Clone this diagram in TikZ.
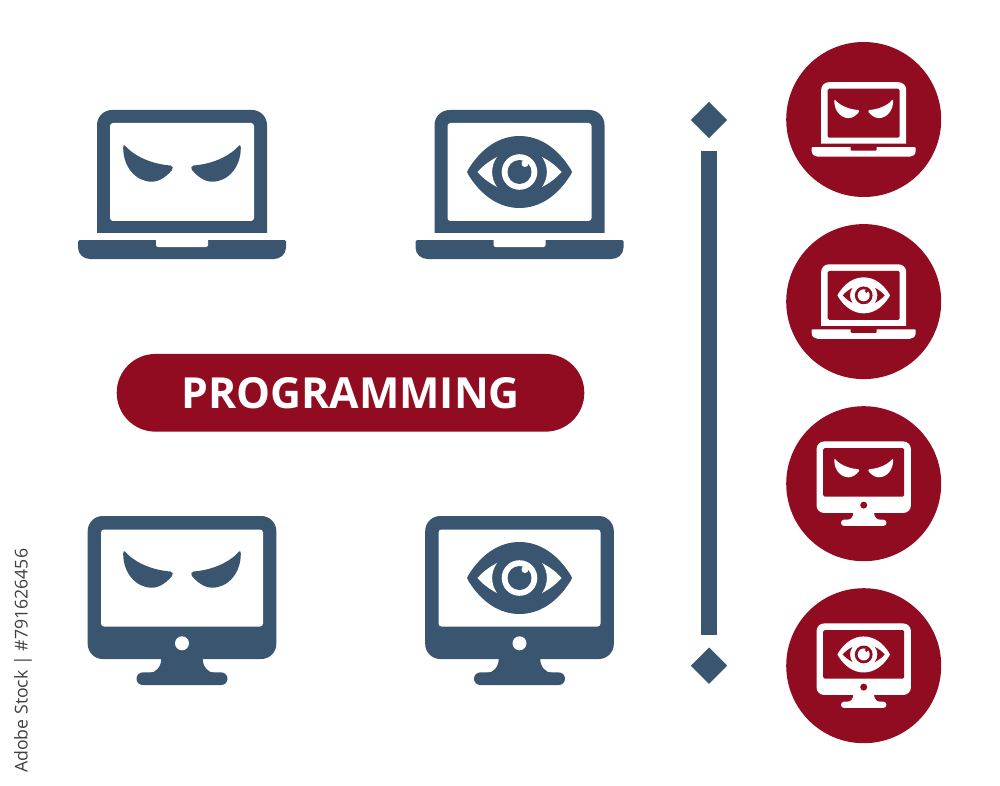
\documentclass[tikz,border=0pt]{standalone}
\usepackage{fontspec}
\setmainfont{Open Sans}
\usetikzlibrary{shapes.geometric}
\definecolor{iconblue}{HTML}{3A5570}
\definecolor{iconred}{HTML}{910C20}
\tikzset{
    badge/.style={circle,fill=iconred,inner sep=0pt,minimum size=155pt},
    marker/.style={diamond,fill=iconblue,aspect=1,inner sep=0pt,minimum width=36.6pt,minimum height=36.6pt},
    pics/angryeyes/.style={code={
        \foreach \side in {1,-1} {
            \fill[iconfore,xscale=\side] (-57,-19.5) .. controls (-48,-9) and (-31,-1) .. (-11.5,0.5)
                .. controls (-9,0.8) and (-8.5,3.5) .. (-10,5)
                .. controls (-15,11) and (-22,16.7) .. (-30.3,16.7)
                .. controls (-46,16.7) and (-59,2) .. (-58.8,-17.5)
                .. controls (-58.8,-19.5) and (-58,-20.5) .. (-57,-19.5) -- cycle;
        }
    }},
    pics/watcheye/.style={code={
        \begin{scope}[shift={(0,7)}]
        \fill[iconfore] (-51,-3) .. controls (-38,-24) and (-20,-36) .. (0,-36)
            .. controls (20,-36) and (38,-24) .. (51,-3)
            .. controls (53,-1) and (53,1) .. (51,3)
            .. controls (38,24) and (20,36) .. (0,36)
            .. controls (-20,36) and (-38,24) .. (-51,3)
            .. controls (-53,1) and (-53,-1) .. (-51,-3) -- cycle;
        \foreach \side in {1,-1} {
            \fill[iconback,xscale=\side] (-42,0) .. controls (-37,-6) and (-30,-11) .. (-22.5,-15)
                .. controls (-29,-6) and (-29,6) .. (-22.5,15)
                .. controls (-30,11) and (-37,6) .. (-42,0) -- cycle;
        }
        \fill[iconback] (0,0) circle[radius=17.8];
        \fill[iconfore] (0,0) circle[radius=12];
        \fill[iconback] (5.5,-8.5) circle[radius=3.5];
        \end{scope}
    }},
    %% #1 shape colour, #2 screen colour, #3 size, #4 what the screen shows
    pics/laptop/.style n args={4}{code={
        \colorlet{iconfore}{#1}
        \colorlet{iconback}{#2}
        \begin{scope}[scale=#3]
        \fill[iconfore] (-85,48.5) -- (-85,-59.5) .. controls (-85,-68) and (-78,-74.5) .. (-70,-74.5)
            -- (70,-74.5) .. controls (78,-74.5) and (85,-68) .. (85,-59.5) -- (85,48.5) -- cycle;
        \fill[iconback,rounded corners=#3*3pt] (-72,-61.5) rectangle (72,36.5);
        \fill[iconfore] (-104,57) .. controls (-104,56) and (-103.5,55.5) .. (-102.5,55.5)
            -- (102.5,55.5) .. controls (103.5,55.5) and (104,56) .. (104,57)
            -- (104,63) .. controls (104,70) and (98,74.5) .. (92,74.5)
            -- (-92,74.5) .. controls (-98,74.5) and (-104,70) .. (-104,63) -- cycle;
        \fill[iconback,rounded corners=#3*2pt] (-26,50) rectangle (26,62.5);
        \pic[scale=#3] at (0,-19.5) {#4};
        \end{scope}
    }},
    pics/monitor/.style n args={4}{code={
        \colorlet{iconfore}{#1}
        \colorlet{iconback}{#2}
        \begin{scope}[scale=#3]
        \fill[iconfore,rounded corners=#3*15pt] (-94.3,-84.5) rectangle (94.3,58.5);
        \fill[iconback,rounded corners=#3*3pt] (-81,-71) rectangle (81,26);
        \fill[iconback] (0,42.8) circle[radius=7];
        \fill[iconfore] (-20.7,55) -- (-20.7,58) .. controls (-20.7,66) and (-26,72.5) .. (-33,72.5)
            -- (33,72.5) .. controls (26,72.5) and (20.7,66) .. (20.7,58) -- (20.7,55) -- cycle;
        \fill[iconfore,rounded corners=#3*6.2pt] (-45.5,71.9) rectangle (45.5,84.5);
        \pic[scale=#3] at (0,-29.5) {#4};
        \end{scope}
    }}
}
\begin{document}
\begin{tikzpicture}[x=1pt,y=-1pt]
    \useasboundingbox (0,0) rectangle (1000,786);
    %% Big icons
    \foreach \px/\face in {182/angryeyes,519.5/watcheye} {
        \pic at (\px,184.5) {laptop={iconblue}{white}{1}{\face}};
        \pic at (\px,600.5) {monitor={iconblue}{white}{1}{\face}};
    }
    %% Title
    \node[fill=iconred,rounded corners=38.8pt,minimum width=467.6pt,minimum height=77.7pt,
        inner sep=0pt,text=white,font=\fontsize{42.8}{43}\selectfont\bfseries] (title) at (350.5,392.8) {PROGRAMMING};
    %% Divider
    \node[marker] (topmark) at (709,120) {};
    \node[marker] (botmark) at (709,665.7) {};
    \draw[iconblue,line width=16.6pt,shorten <=12.4pt,shorten >=12.4pt] (topmark) -- (botmark);
    %% Badges
    \foreach \n/\py in {1/119.5,2/301.6,3/483.7,4/665.7} {
        \node[badge] (badge\n) at (863.7,\py) {};
    }
    \pic at (badge1) {laptop={white}{iconred}{0.5}{angryeyes}};
    \pic at (badge2) {laptop={white}{iconred}{0.5}{watcheye}};
    \pic at (badge3) {monitor={white}{iconred}{0.5}{angryeyes}};
    \pic at (badge4) {monitor={white}{iconred}{0.5}{watcheye}};
    %% Side text
    \node[rotate=90,text=black!75,font=\fontsize{17.7}{18}\selectfont] (sidetext) at (23,660.8) {Adobe Stock | \#791626456};
\end{tikzpicture}
\end{document}
